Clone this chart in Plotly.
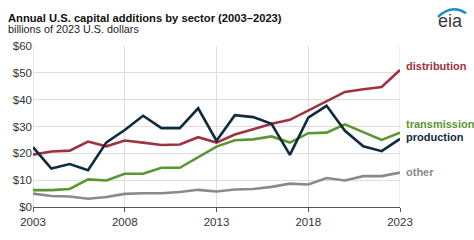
import plotly.graph_objects as go

years = list(range(2003, 2024))
distribution = [19.5, 20.7, 21.0, 24.4, 22.6, 24.8, 24.0, 23.1, 23.3, 26.0, 24.0, 27.0,
                29.0, 31.0, 32.5, 36.0, 39.5, 42.9, 43.9, 44.7, 51.1]
transmission = [6.3, 6.3, 6.7, 10.3, 9.9, 12.4, 12.4, 14.6, 14.6, 18.6, 22.5, 24.9,
                25.2, 26.3, 24.0, 27.5, 27.7, 30.8, 27.9, 25.0, 27.7]
production = [22.3, 14.3, 16.0, 13.7, 24.1, 28.7, 34.0, 29.4, 29.4, 36.8, 24.7, 34.2,
              33.5, 31.0, 19.4, 33.3, 37.7, 28.4, 22.6, 20.8, 25.4]
other = [5.0, 4.1, 3.9, 3.1, 3.7, 4.9, 5.1, 5.1, 5.6, 6.4, 5.8, 6.5,
         6.7, 7.5, 8.7, 8.4, 10.8, 9.9, 11.5, 11.5, 12.8]

series = [
    ("other", other, "#8a8a8a"),
    ("transmission", transmission, "#5b9632"),
    ("distribution", distribution, "#9e3240"),
    ("production", production, "#0f2b3d"),
]
label_y = {"distribution": 52.5, "transmission": 30.8, "production": 26.2, "other": 13.0}

# plot area in pixels: x 33..400, y 46..218
L, R, T, B = 33, 400, 46, 218
def px(X):
    return (X - L) / (R - L)
def py(Y):
    return (B - Y) / (B - T)

fig = go.Figure()
for name, vals, color in series:
    fig.add_trace(go.Scatter(x=years, y=vals, mode="lines", name=name,
                             line=dict(color=color, width=2.6), showlegend=False,
                             hoverinfo="skip"))
    fig.add_annotation(x=1, xref="paper", xanchor="left", xshift=4,
                       y=label_y[name], yref="y", text="<b>%s</b>" % name,
                       showarrow=False, font=dict(color=color, size=11))

fig.update_layout(
    width=474, height=240,
    margin=dict(l=L, r=474 - R, t=T, b=240 - B),
    paper_bgcolor="white", plot_bgcolor="white",
    font=dict(family="Liberation Sans, Arial, sans-serif", color="#333333", size=12),
    xaxis=dict(range=[2003, 2023], tickvals=[2003, 2008, 2013, 2018, 2023],
               showgrid=True, gridcolor="#dedede", gridwidth=1,
               showline=True, linecolor="#555555", linewidth=1,
               ticks="outside", ticklen=4, tickcolor="#555555",
               zeroline=False, fixedrange=True, tickfont=dict(size=11.5)),
    yaxis=dict(range=[0, 60], tickvals=[0, 10, 20, 30, 40, 50, 60],
               ticktext=["$0", "$10", "$20", "$30", "$40", "$50", "$60"],
               showgrid=True, gridcolor="#dedede", gridwidth=1,
               showline=False, zeroline=False, ticks="", fixedrange=True,
               tickfont=dict(size=11.5)),
)
fig.add_shape(type="line", xref="x", yref="paper", x0=2003, x1=2003, y0=0, y1=1,
              line=dict(color="#cccccc", width=1), layer="below")
fig.add_shape(type="line", xref="x", yref="paper", x0=2023, x1=2023, y0=0, y1=1,
              line=dict(color="#dedede", width=1), layer="below")

fig.add_annotation(x=px(6), y=py(16), xref="paper", yref="paper",
                   xanchor="left", yanchor="middle", showarrow=False,
                   text="<b>Annual U.S. capital additions by sector (2003–2023)</b>",
                   font=dict(size=11.2, color="#111111"))
fig.add_annotation(x=px(6), y=py(28), xref="paper", yref="paper",
                   xanchor="left", yanchor="middle", showarrow=False,
                   text="billions of 2023 U.S. dollars",
                   font=dict(size=10.8, color="#222222"))
# eia logo
fig.add_annotation(x=px(450), y=py(19), xref="paper", yref="paper",
                   xanchor="center", yanchor="middle", showarrow=False,
                   text="eia", font=dict(size=18, color="#3a3a3a",
                                         family="Liberation Sans, Arial, sans-serif"))
fig.add_shape(type="path", xref="paper", yref="paper",
              path="M %f %f Q %f %f %f %f" % (px(438), py(15), px(452), py(1),
                                             px(466), py(11)),
              line=dict(color="#1a8fc9", width=2.5))

fig.write_html("out.html")
